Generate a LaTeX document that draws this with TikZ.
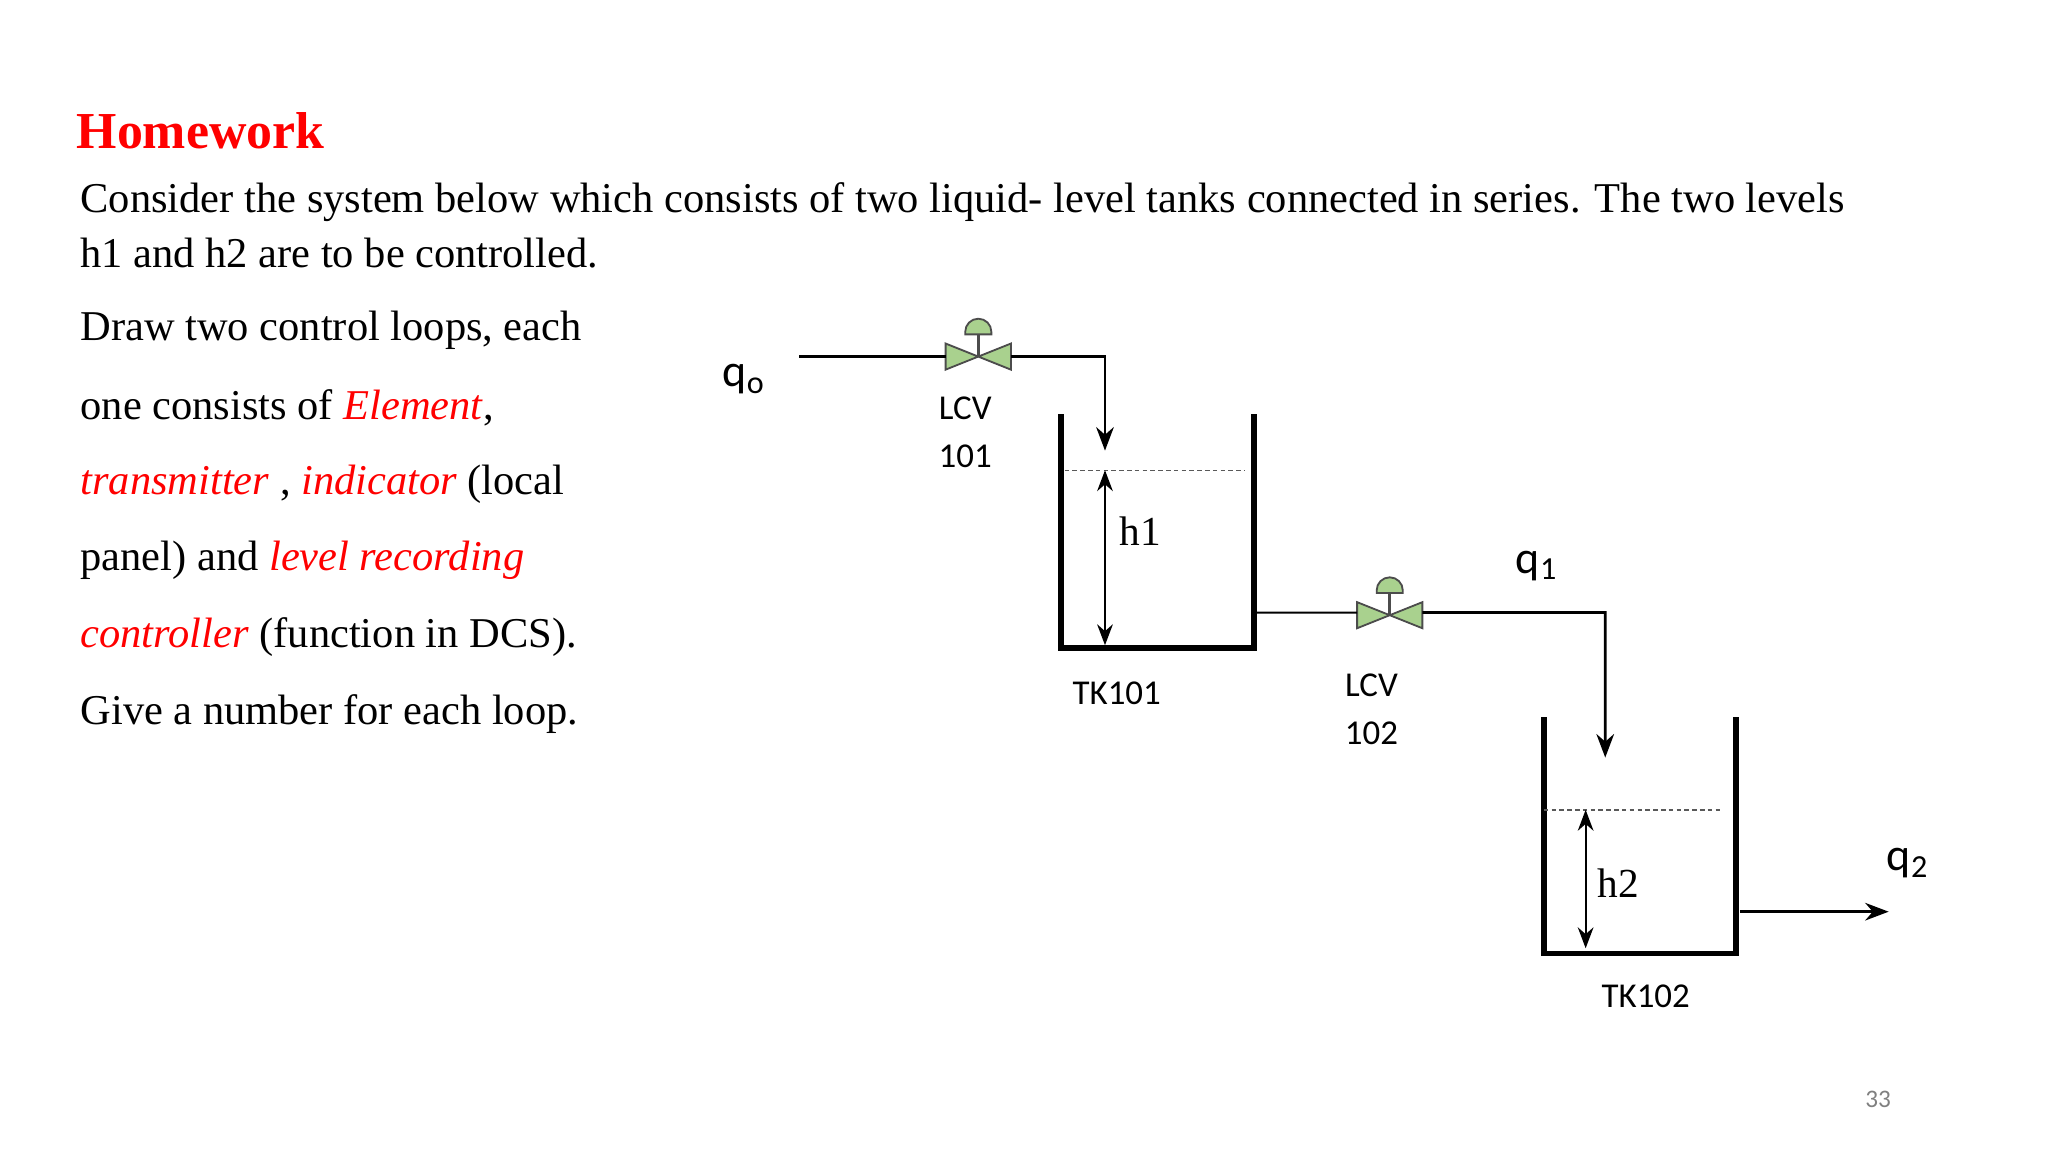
\documentclass[tikz,border=0pt]{standalone}
\usepackage{fontspec}
\setmainfont{Liberation Serif}
\newfontfamily\lblfont{Carlito}
\usetikzlibrary{positioning,arrows.meta,calc}
\definecolor{valvegreen}{HTML}{A9D18E}
\definecolor{hwred}{HTML}{FF0000}
\tikzset{
  body/.style={anchor=west,font=\fontsize{9.25}{11}\selectfont,inner sep=0pt},
  tag/.style={font=\lblfont\fontsize{7.6}{8}\selectfont,align=center,inner sep=0pt},
  flow/.style={font=\lblfont\fontsize{10}{11}\selectfont,inner sep=0pt},
  wall/.style={line width=1.3pt},
  pipe/.style={line width=0.6pt},
  level/.style={dash pattern=on 1pt off 0.7pt,line width=0.3pt,gray!70!black},
  hh/.style={{Stealth[length=1.6mm]}-{Stealth[length=1.6mm]},line width=0.5pt},
  tip/.style={-{Stealth[length=1.8mm]}},
  valve/.style={fill=valvegreen,draw=black!70,line width=0.4pt}
}
\newcommand{\ctrlvalve}[2]{% name, position
  \coordinate (#1) at (#2);
  \draw[valve] ($(#1)+(-0.25,0.1)$) -- ($(#1)+(0.25,-0.1)$) -- ($(#1)+(0.25,0.1)$) -- ($(#1)+(-0.25,-0.1)$) -- cycle;
  \draw[black!70,line width=0.6pt] (#1) -- ++(0,0.17);
  \draw[valve] ($(#1)+(-0.1,0.17)$) -- ++(0.2,0) -- ++(0,0.02) arc (0:180:0.1) -- cycle;
}
\begin{document}
\begin{tikzpicture}[x=1cm,y=1cm]
\useasboundingbox (0,0) rectangle (15.68,8.82);

% text block
\node[body,text=hwred,font=\bfseries\fontsize{11.3}{13}\selectfont] (title) at (0.58,7.82) {Homework};
\node[body] (l1) at (0.61,7.27) {Consider the system below which consists of two liquid- level tanks connected in series. The two levels};
\node[body] (l2) at (0.61,6.88) {h1 and h2 are to be controlled.};
\node[body] (p1) at (0.61,6.29) {Draw two control loops, each};
\node[body] (p2) at (0.61,5.70) {one consists of \textcolor{hwred}{\textit{Element}},};
\node[body] (p3) at (0.61,5.11) {\textcolor{hwred}{\textit{transmitter}} , \textcolor{hwred}{\textit{indicator}} (local};
\node[body] (p4) at (0.61,4.53) {panel) and \textcolor{hwred}{\textit{level recording}}};
\node[body] (p5) at (0.61,3.94) {\textcolor{hwred}{\textit{controller}} (function in DCS).};
\node[body] (p6) at (0.61,3.35) {Give a number for each loop.};

% tank TK101
\coordinate (t1tl) at (8.12,5.65);
\coordinate (t1bl) at (8.12,3.86);
\coordinate (t1br) at (9.60,3.86);
\coordinate (t1tr) at (9.60,5.65);
\draw[wall] (t1tl) -- (t1bl) -- (t1br) -- (t1tr);
\coordinate (lv1a) at (8.15,5.22);
\coordinate (lv1b) at (9.53,5.22);
\draw[level] (lv1a) -- (lv1b);
\coordinate (h1top) at (8.46,5.22);
\coordinate (h1bot) at (8.46,3.88);
\draw[hh] (h1top) -- (h1bot);
\node[font=\fontsize{9}{11}\selectfont] (h1) at (8.73,4.75) {h1};
\node[tag] (tk1) at (8.55,3.51) {TK101};

% tank TK102
\coordinate (t2tl) at (11.82,3.33);
\coordinate (t2bl) at (11.82,1.52);
\coordinate (t2br) at (13.29,1.52);
\coordinate (t2tr) at (13.29,3.33);
\draw[wall] (t2tl) -- (t2bl) -- (t2br) -- (t2tr);
\coordinate (lv2a) at (11.82,2.62);
\coordinate (lv2b) at (13.18,2.62);
\draw[level] (lv2a) -- (lv2b);
\coordinate (h2top) at (12.14,2.62);
\coordinate (h2bot) at (12.14,1.56);
\draw[hh] (h2top) -- (h2bot);
\node[font=\fontsize{9}{11}\selectfont] (h2) at (12.39,2.06) {h2};
\node[tag] (tk2) at (12.60,1.19) {TK102};

% inlet line with LCV 101
\coordinate (in0) at (6.12,6.09);
\coordinate (in1) at (8.46,6.09);
\coordinate (in2) at (8.46,5.37);
\ctrlvalve{v1}{7.49,6.09}
\draw[pipe] (in0) -- ($(v1)+(-0.25,0)$);
\draw[pipe,tip] ($(v1)+(0.25,0)$) -- (in1) -- (in2);
\node[flow] (q0) at (5.70,5.92) {q\textsubscript{o}};
\node[tag] (lcv1) at (7.39,5.51) {LCV\\[0.9mm]101};

% line between tanks with LCV 102
\coordinate (mid0) at (9.60,4.13);
\coordinate (mid1) at (12.29,4.13);
\coordinate (mid2) at (12.29,3.02);
\ctrlvalve{v2}{10.64,4.11}
\draw[pipe,line width=0.4pt] (mid0) -- ($(v2)+(-0.25,0.02)$);
\draw[pipe,tip] ($(v2)+(0.25,0.02)$) -- (mid1) -- (mid2);
\node[flow] (q1) at (11.77,4.49) {q\textsubscript{1}};
\node[tag] (lcv2) at (10.50,3.39) {LCV\\[0.9mm]102};

% outlet
\coordinate (out0) at (13.32,1.84);
\coordinate (out1) at (14.46,1.84);
\draw[pipe,tip] (out0) -- (out1);
\node[flow] (q2) at (14.61,2.21) {q\textsubscript{2}};

\node[font=\lblfont\fontsize{5.5}{6}\selectfont,text=gray] (pg) at (14.38,0.40) {33};
\end{tikzpicture}
\end{document}
